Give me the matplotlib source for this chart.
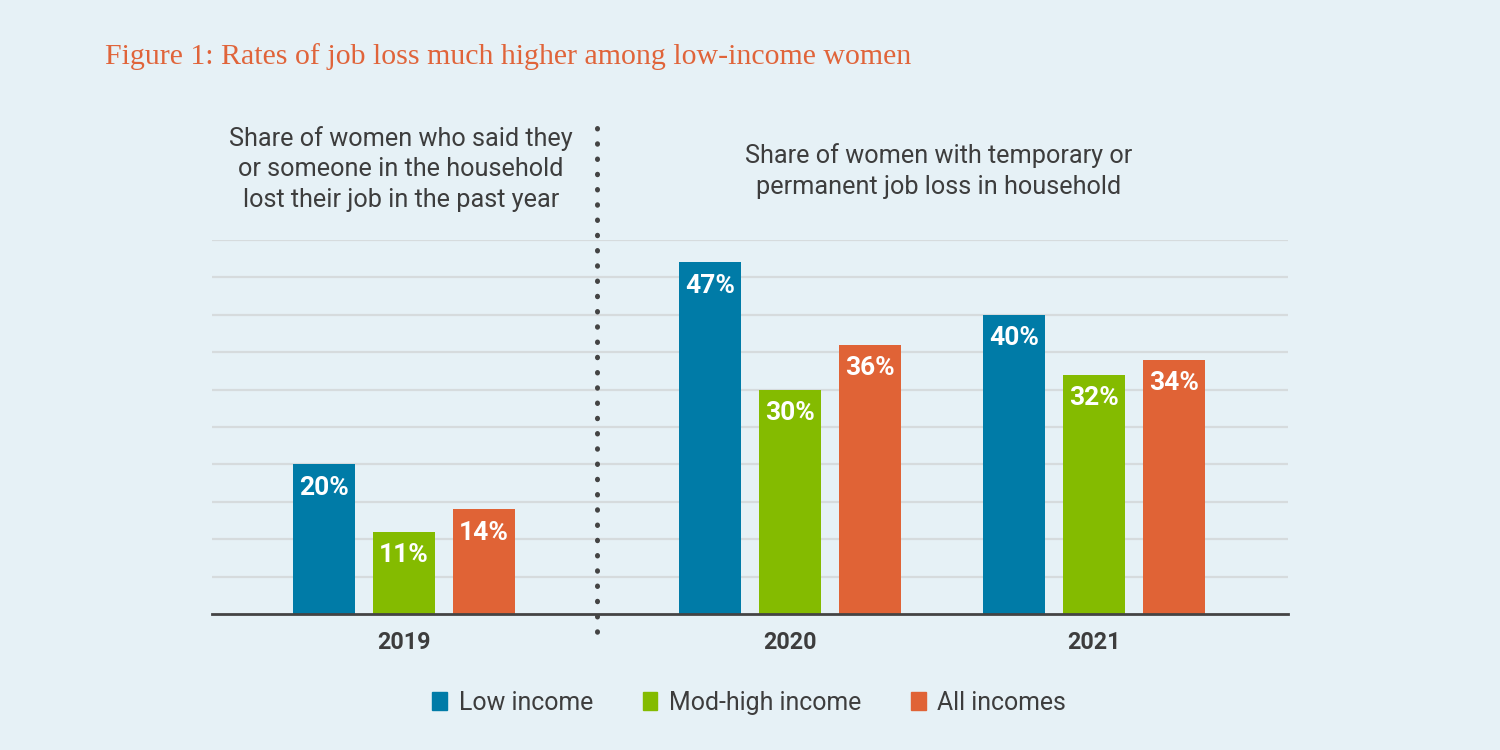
import numpy as np
import matplotlib
matplotlib.use("Agg")
import matplotlib.pyplot as plt
from matplotlib.patches import Rectangle

# data
years = ['2019', '2020', '2021']
series = ['Low income', 'Mod-high income', 'All incomes']
low_income = [20, 47, 40]
mod_high_income = [11, 30, 32]
all_incomes = [14, 36, 34]

left_note = 'Share of women who said they\nor someone in the household\nlost their job in the past year'
right_note = 'Share of women with temporary or\npermanent job loss in household'
title = 'Figure 1: Rates of job loss much higher among low-income women'

# styling
bg = '#e6f1f6'
colors = ['#007ba7', '#84bb00', '#e06336']
dark = '#3d3d3d'
plt.rcParams['font.family'] = ['Roboto', 'DejaVu Sans']

fig = plt.figure(figsize=(15, 7.5), dpi=100, facecolor=bg)
ax = fig.add_axes([212 / 1500, 1 - 614 / 750, 1076 / 1500, 374 / 750])
ax.set_facecolor(bg)

# group centres in axis units (pixels from left of axes), bars 62 wide, step 80
centers = [192, 578, 882]
width = 62
step = 80

for i, vals in enumerate([low_income, mod_high_income, all_incomes]):
    xs = np.array(centers) + (i - 1) * step
    ax.bar(xs, vals, width=width, color=colors[i], zorder=3, label=series[i])
    for x, v in zip(xs, vals):
        ax.annotate(f'{v}%', (x, v), xytext=(0, -17), textcoords='offset points',
                    ha='center', va='center', color='white', fontsize=19,
                    fontweight='bold', zorder=4)

ax.set_xlim(0, 1076)
ax.set_ylim(0, 50)
ax.set_yticks(np.arange(5, 51, 5))
ax.yaxis.grid(True, color='#d6dbdd', lw=1.6, zorder=0)
ax.tick_params(left=False, bottom=False, labelleft=False)
ax.set_xticks(centers)
ax.set_xticklabels(years, fontsize=16.8, fontweight='bold', color=dark)
ax.tick_params(axis='x', pad=9)
for s in ['left', 'right', 'top']:
    ax.spines[s].set_visible(False)
ax.spines['bottom'].set_color('#444444')
ax.spines['bottom'].set_linewidth(2)
ax.spines['bottom'].set_zorder(5)

# dotted separator
fig.add_artist(plt.Line2D([597 / 1500, 597 / 1500], [1 - 128 / 750, 1 - 642 / 750],
                          color='#444444', lw=3.6, linestyle=(0, (0.1, 2.95)),
                          dash_capstyle='round', transform=fig.transFigure))

# notes
fig.text(401 / 1500, 1 - 169 / 750, left_note, ha='center', va='center',
         fontsize=18.2, color=dark, linespacing=1.33)
fig.text(939 / 1500, 1 - 171 / 750, right_note, ha='center', va='center',
         fontsize=18.2, color=dark, linespacing=1.33)

# title
fig.text(105 / 1500, 1 - 57 / 750, title, ha='left', va='center', fontsize=21.5,
         color='#e0643a', family=['Liberation Serif', 'DejaVu Serif'])

# legend
handles = [Rectangle((0, 0), 1, 1, color=c) for c in colors]
fig.legend(handles, series, loc='center', bbox_to_anchor=(749 / 1500, 1 - 703 / 750),
           ncol=3, frameon=False, fontsize=17.9, handlelength=0.6, handleheight=0.75,
           handletextpad=0.45, columnspacing=2.0, labelcolor=dark)

fig.savefig('out.png', dpi=100, facecolor=bg)
